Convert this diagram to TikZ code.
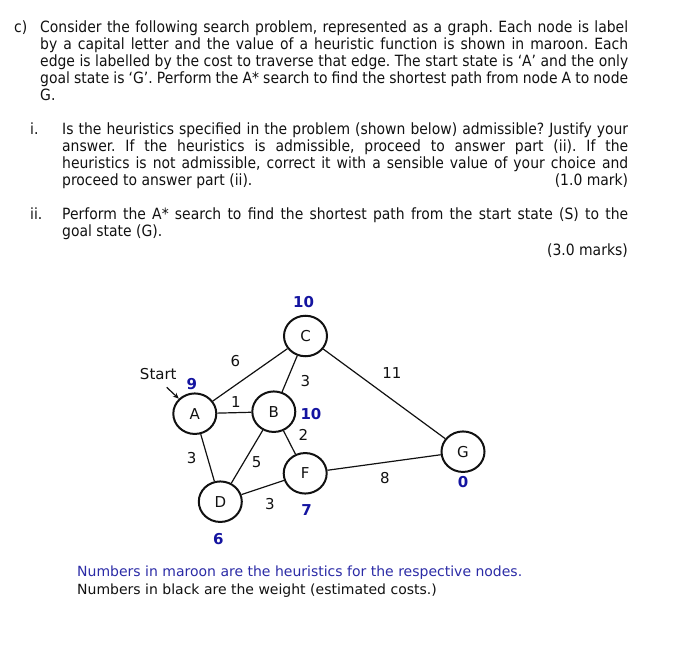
\documentclass[tikz,border=0pt]{standalone}
\usepackage{fontspec}
\setmainfont{DejaVu Sans Condensed}
\newfontfamily\verdfont{DejaVu Sans}
\usetikzlibrary{positioning,arrows.meta,shapes.geometric}
\definecolor{heur}{HTML}{1414A0}
\definecolor{note}{HTML}{2B2BA6}
\definecolor{ink}{HTML}{111111}
\hyphenpenalty=10000
\frenchspacing

\begin{document}
\begin{tikzpicture}[x=1pt, y=-1pt,
    every node/.style={text=ink, inner sep=0pt},
    para/.style={anchor=base west, text width=#1, align=justify,
                 font=\fontsize{15.5}{16.8}\selectfont},
    tag/.style={anchor=base west, font=\fontsize{15.5}{16.8}\selectfont},
    state/.style={ellipse, draw=ink, line width=2pt, minimum width=43pt,
                  minimum height=40.5pt, font=\verdfont\fontsize{15}{15}\selectfont},
    hval/.style={text=heur, font=\verdfont\bfseries\fontsize{15}{15}\selectfont},
    wt/.style={font=\verdfont\fontsize{15}{15}\selectfont},
    link/.style={draw=ink, line width=1.2pt},
    startarr/.style={-{Stealth[length=6pt,width=5pt]}, draw=ink, line width=1.2pt},
    notes/.style={anchor=base west, font=\verdfont\fontsize{14}{17.5}\selectfont},
  ]
  \useasboundingbox (0,0) rectangle (689,666);

  % the question text
  \node[tag] (lc) at (14,33) {c)};
  \node[para=588pt] (qc) at (40,33)
    {Consider the following search problem, represented as a graph. Each node is label\linebreak
     by a capital letter and the value of a heuristic function is shown in maroon. Each\linebreak
     edge is labelled by the cost to traverse that edge. The start state is ‘A’ and the only\linebreak
     goal state is ‘G’. Perform the A* search to find the shortest path from node A to node\linebreak
     G.};

  \node[tag] (li) at (30,135) {i.};
  \node[para=566pt] (qi) at (62,135)
    {Is the heuristics specified in the problem (shown below) admissible? Justify your\linebreak
     answer. If the heuristics is admissible, proceed to answer part (ii). If the\linebreak
     heuristics is not admissible, correct it with a sensible value of your choice and\linebreak
     proceed to answer part (ii). \hfill (1.0 mark)};

  \node[tag] (lii) at (30,220) {ii.};
  \node[para=566pt] (qii) at (62,220)
    {Perform the A* search to find the shortest path from the start state (S) to the\linebreak
     goal state (G).};
  \node[tag, anchor=base east] (mii) at (628,255) {(3.0 marks)};

  % the graph
  \node[state] (C) at (305.5,336) {C};
  \node[state] (A) at (194.8,413.7) {A};
  \node[state] (B) at (273.8,411.7) {B};
  \node[state] (F) at (305.2,473.3) {F};
  \node[state] (D) at (220.3,501.7) {D};
  \node[state] (G) at (463,451.7) {G};

  \draw[link] (C) -- (A);
  \draw[link] (C) -- (B);
  \draw[link] (C) -- (G);
  \draw[link] (A) -- (B);
  \draw[link] (A) -- (D);
  \draw[link] (B) -- (D);
  \draw[link] (B) -- (F);
  \draw[link] (D) -- (F);
  \draw[link] (F) -- (G);

  % heuristic values
  \node[hval, above=6.5pt of C, xshift=-2pt] (hC) {10};
  \node[hval, above=3pt of A, xshift=-3pt] (hA) {9};
  \node[hval, right=4pt of B, yshift=-2.6pt] (hB) {10};
  \node[hval, below=10pt of F, xshift=1.5pt] (hF) {7};
  \node[hval, below=10pt of D, xshift=-2pt] (hD) {6};
  \node[hval, below=3.3pt of G] (hG) {0};

  % edge weights
  \node[wt] (wCA) at (235.5,361) {6};
  \node[wt] (wCB) at (305.5,381) {3};
  \node[wt] (wCG) at (392,373) {11};
  \node[wt] (wAB) at (236,402) {1};
  \node[wt] (wBF) at (303.5,434.5) {2};
  \node[wt] (wAD) at (191.7,458.3) {3};
  \node[wt] (wBD) at (256.7,462.5) {5};
  \node[wt] (wDF) at (270,504) {3};
  \node[wt] (wFG) at (385,477.7) {8};

  % start marker
  \node[wt] (start) at (158.3,374) {Start};
  \coordinate (s0) at (166.7,387.3);
  \draw[startarr] (s0) -- (A);

  % legend
  \node[notes, text=note] (n1) at (77,576.5) {Numbers in maroon are the heuristics for the respective nodes.};
  \node[notes] (n2) at (77,594) {Numbers in black are the weight (estimated costs.)};
\end{tikzpicture}
\end{document}
